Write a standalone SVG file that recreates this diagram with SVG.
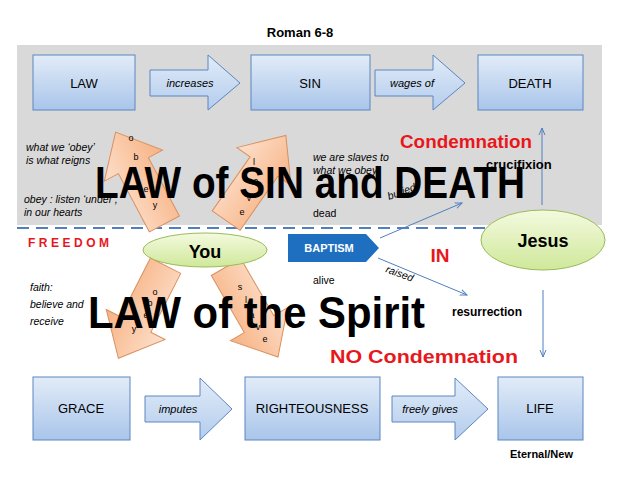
<svg xmlns="http://www.w3.org/2000/svg" width="638" height="479" viewBox="0 0 638 479">
<style>
text{font-family:"Liberation Sans",Calibri,sans-serif}
.box{fill:url(#bg);stroke:#5b86c0;stroke-width:1}
.bl{font-size:13px;text-anchor:middle;fill:#000}
.arr{fill:url(#ag);stroke:#5b86c0;stroke-width:1}
.al{font-size:11px;font-style:italic;text-anchor:middle}
.or{fill:url(#og);stroke:#d99060;stroke-width:1}
.ol{font-size:9px;text-anchor:middle}
.it{font-size:10.5px;font-style:italic}
.sm{font-size:10.5px}
.big{font-size:44px;font-weight:bold}
.red{fill:#e8171c;font-weight:bold}
.ln{stroke:#4f7fbf;stroke-width:1;fill:none;marker-end:url(#m)}
</style>
<defs>
<linearGradient id="bg" x1="0" y1="0" x2="0" y2="1"><stop offset="0" stop-color="#e2ecf8"/><stop offset="1" stop-color="#a9c5ea"/></linearGradient>
<linearGradient id="ag" x1="0" y1="0" x2="0" y2="1"><stop offset="0" stop-color="#e2ecf8"/><stop offset="1" stop-color="#b3cced"/></linearGradient>
<linearGradient id="og" x1="0" y1="0" x2="0" y2="1"><stop offset="0" stop-color="#fde0cc"/><stop offset="1" stop-color="#f7b283"/></linearGradient>
<linearGradient id="gg" x1="0" y1="0" x2="0" y2="1"><stop offset="0" stop-color="#f4fadf"/><stop offset="1" stop-color="#cfe89a"/></linearGradient>
<marker id="m" markerWidth="8" markerHeight="8" refX="7" refY="4" orient="auto" markerUnits="userSpaceOnUse"><path d="M0,1 L7,4 L0,7" fill="none" stroke="#4f7fbf" stroke-width="1"/></marker>
<path id="oa" d="M-52,-17 L14,-17 L14,-33 L52,0 L14,33 L14,17 L-52,17 Z"/>
</defs>
<rect x="17" y="45" width="585" height="180" fill="#d9d9d9"/>
<text x="300" y="37" font-size="13" font-weight="bold" text-anchor="middle">Roman 6-8</text>
<g id="connectors">
<line x1="17" y1="228" x2="530" y2="228" stroke="#4f7fbf" stroke-width="2" stroke-dasharray="12,7"/>
<line class="ln" x1="380" y1="238" x2="462" y2="203"/>
<line class="ln" x1="378" y1="258" x2="467" y2="295"/>
<line class="ln" x1="542" y1="205" x2="542" y2="128"/>
<line class="ln" x1="543" y1="290" x2="543" y2="357"/>
</g>
<g id="law"><rect class="box" x="33" y="55" width="102" height="55"/><text class="bl" x="84" y="88">LAW</text></g>
<g id="a1"><path class="arr" d="M150,70 L208,70 L208,55 L240,83 L208,110 L208,96 L150,96 Z"/><text class="al" x="190" y="87">increases</text></g>
<g id="sin"><rect class="box" x="251" y="55" width="119" height="55"/><text class="bl" x="310" y="88">SIN</text></g>
<g id="a2"><path class="arr" d="M375,70 L433,70 L433,55 L465,83 L433,110 L433,96 L375,96 Z"/><text class="al" x="412" y="87">wages of</text></g>
<g id="death"><rect class="box" x="478" y="55" width="105" height="55"/><text class="bl" x="530" y="88">DEATH</text></g>
<g id="grace"><rect class="box" x="33" y="377" width="97" height="63"/><text class="bl" x="81" y="413">GRACE</text></g>
<g id="a3"><path class="arr" d="M145,396 L200,396 L200,378 L232,409 L200,440 L200,422 L145,422 Z"/><text class="al" x="178" y="413">imputes</text></g>
<g id="right"><rect class="box" x="245" y="377" width="135" height="63"/><text class="bl" x="312" y="413">RIGHTEOUSNESS</text></g>
<g id="a4"><path class="arr" d="M392,396 L455,396 L455,378 L488,409 L455,440 L455,422 L392,422 Z"/><text class="al" x="430" y="413">freely gives</text></g>
<g id="life"><rect class="box" x="498" y="377" width="85" height="63"/><text class="bl" x="540" y="413">LIFE</text></g>
<g id="o1"><use href="#oa" class="or" transform="translate(140,178) rotate(-118)"/>
<text class="ol" x="131" y="141">o</text><text class="ol" x="136" y="160">b</text><text class="ol" x="146" y="192">e</text><text class="ol" x="155" y="208">y</text></g>
<g id="o2"><use href="#oa" class="or" transform="translate(256,178) rotate(-55)"/>
<text class="ol" x="254" y="165">l</text><text class="ol" x="256" y="184">a</text><text class="ol" x="249" y="201">v</text><text class="ol" x="242" y="215">e</text></g>
<g id="o3"><use href="#oa" class="or" transform="translate(142,312) rotate(117)"/>
<text class="ol" x="155" y="295">o</text><text class="ol" x="150" y="306">b</text><text class="ol" x="146" y="318">e</text><text class="ol" x="134" y="332">y</text></g>
<g id="o4"><use href="#oa" class="or" transform="translate(252,312) rotate(60)"/>
<text class="ol" x="240" y="290">s</text><text class="ol" x="246" y="303">l</text><text class="ol" x="252" y="318">a</text><text class="ol" x="258" y="330">v</text><text class="ol" x="265" y="342">e</text></g>
<text class="it" x="26" y="151">what we ‘obey’</text>
<text class="it" x="26" y="164">is what reigns</text>
<text class="it" x="24" y="203">obey : listen ‘under’,</text>
<text class="it" x="24" y="216">in our hearts</text>
<text class="it" x="313" y="161">we are slaves to</text>
<text class="it" x="313" y="174">what we obey’</text>
<text class="sm" x="313" y="217">dead</text>
<text class="sm" x="313" y="284">alive</text>
<text class="it" x="389" y="200" transform="rotate(-20 389 200)">buried</text>
<text class="it" x="385" y="272" transform="rotate(20 385 272)">raised</text>
<text x="486" y="169" font-size="13" font-weight="bold">crucifixion</text>
<text class="it" x="30" y="291">faith:</text>
<text class="it" x="30" y="308">believe and</text>
<text class="it" x="30" y="325">receive</text>
<text x="28" y="247" class="red" font-size="12" letter-spacing="3.5" font-weight="bold">FREEDOM</text>
<text class="big" x="95" y="198" textLength="430" lengthAdjust="spacingAndGlyphs">LAW of SIN and DEATH</text>
<text class="big" x="88" y="328" textLength="337" lengthAdjust="spacingAndGlyphs">LAW of the Spirit</text>
<text class="red" x="466" y="148" font-size="19" text-anchor="middle" textLength="132" lengthAdjust="spacingAndGlyphs">Condemnation</text>
<text class="red" x="440" y="262" font-size="19" text-anchor="middle">IN</text>
<text class="red" x="424" y="363" font-size="19" text-anchor="middle" textLength="188" lengthAdjust="spacingAndGlyphs">NO Condemnation</text>
<g id="you"><ellipse cx="205" cy="250" rx="62" ry="17" fill="url(#gg)" stroke="#9bbb59"/><text x="205" y="258" font-size="18" font-weight="bold" text-anchor="middle">You</text></g>
<g id="baptism"><path d="M288,234 L366,234 L379,248 L366,262 L288,262 Z" fill="#1f6fc1"/><text x="329" y="252" font-size="11" fill="#fff" font-weight="bold" text-anchor="middle">BAPTISM</text></g>
<g id="jesus"><ellipse cx="543" cy="240" rx="62" ry="30" fill="url(#gg)" stroke="#9bbb59"/><text x="543" y="247" font-size="18" font-weight="bold" text-anchor="middle">Jesus</text></g>
<text x="452" y="316" font-size="12" font-weight="bold">resurrection</text>
<text x="510" y="458" font-size="11" font-weight="bold">Eternal/New</text>
</svg>
